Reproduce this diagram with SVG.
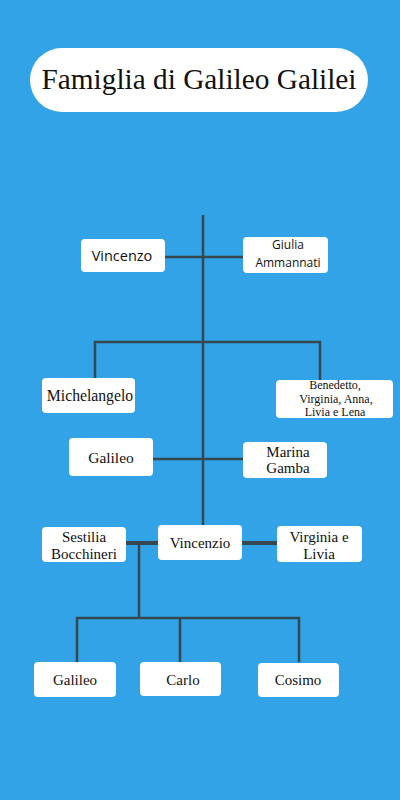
<svg xmlns="http://www.w3.org/2000/svg" width="400" height="800" viewBox="0 0 400 800">
<style>
.box{fill:#ffffff;}
.ln{stroke:#37474f;stroke-width:2.5;fill:none;}
.thk{stroke:#37474f;stroke-width:4;fill:none;}
.t{font-family:"Liberation Serif","Times New Roman",serif;fill:#111;text-anchor:middle;}
.s{font-family:"Open Sans","Liberation Sans",sans-serif;fill:#111;text-anchor:middle;}
</style>
<rect width="400" height="800" fill="#31a3e6"/>
<g id="title">
<rect x="30" y="48" width="338" height="64" rx="32" fill="#ffffff"/>
<text class="t" x="199" y="89" font-size="30" textLength="315" lengthAdjust="spacingAndGlyphs">Famiglia di Galileo Galilei</text>
</g>
<g id="connectors">
<line class="ln" x1="203" y1="215" x2="203" y2="525"/>
<line class="ln" x1="165" y1="257" x2="243" y2="257"/>
<polyline class="ln" points="95,378 95,342 320,342 320,380"/>
<line class="ln" x1="153" y1="459" x2="243" y2="459"/>
<line class="thk" x1="126" y1="543" x2="158" y2="543"/>
<line class="thk" x1="242" y1="543" x2="277" y2="543"/>
<line class="ln" x1="139" y1="543" x2="139" y2="618"/>
<polyline class="ln" points="77,662 77,618 299,618 299,662"/>
<line class="ln" x1="180" y1="618" x2="180" y2="662"/>
</g>
<g id="vincenzo">
<rect class="box" x="81" y="239" width="84" height="33" rx="4"/>
<text class="s" x="122" y="261" font-size="14.5">Vincenzo</text>
</g>
<g id="giulia">
<rect class="box" x="243" y="237" width="85" height="36" rx="4"/>
<text class="s" x="288" y="249" font-size="12">Giulia</text>
<text class="s" x="288" y="266.5" font-size="12">Ammannati</text>
</g>
<g id="michelangelo">
<rect class="box" x="42" y="378" width="93" height="35" rx="4"/>
<text class="t" x="90" y="401" font-size="15.7">Michelangelo</text>
</g>
<g id="benedetto">
<rect class="box" x="276" y="380" width="117" height="38" rx="4"/>
<text class="t" x="335" y="389" font-size="12">Benedetto,</text>
<text class="t" x="336" y="403" font-size="12">Virginia, Anna,</text>
<text class="t" x="335" y="415.5" font-size="12">Livia e Lena</text>
</g>
<g id="galileo">
<rect class="box" x="69" y="438" width="84" height="38" rx="4"/>
<text class="t" x="111" y="463" font-size="15.5">Galileo</text>
</g>
<g id="marina">
<rect class="box" x="243" y="442" width="84" height="36" rx="4"/>
<text class="t" x="288" y="457" font-size="15">Marina</text>
<text class="t" x="288" y="473" font-size="15">Gamba</text>
</g>
<g id="sestilia">
<rect class="box" x="42" y="527" width="84" height="35" rx="4"/>
<text class="t" x="84" y="542" font-size="15">Sestilia</text>
<text class="t" x="84" y="559" font-size="15">Bocchineri</text>
</g>
<g id="vincenzio">
<rect class="box" x="158" y="525" width="84" height="35" rx="4"/>
<text class="t" x="200" y="548" font-size="15">Vincenzio</text>
</g>
<g id="virginia">
<rect class="box" x="277" y="526" width="85" height="36" rx="4"/>
<text class="t" x="319" y="542" font-size="15">Virginia e</text>
<text class="t" x="319" y="559" font-size="15">Livia</text>
</g>
<g id="galileo2">
<rect class="box" x="34" y="662" width="82" height="35" rx="4"/>
<text class="t" x="75" y="685" font-size="15">Galileo</text>
</g>
<g id="carlo">
<rect class="box" x="140" y="662" width="81" height="34" rx="4"/>
<text class="t" x="183" y="685" font-size="15">Carlo</text>
</g>
<g id="cosimo">
<rect class="box" x="258" y="663" width="81" height="34" rx="4"/>
<text class="t" x="298" y="685" font-size="15">Cosimo</text>
</g>
</svg>
